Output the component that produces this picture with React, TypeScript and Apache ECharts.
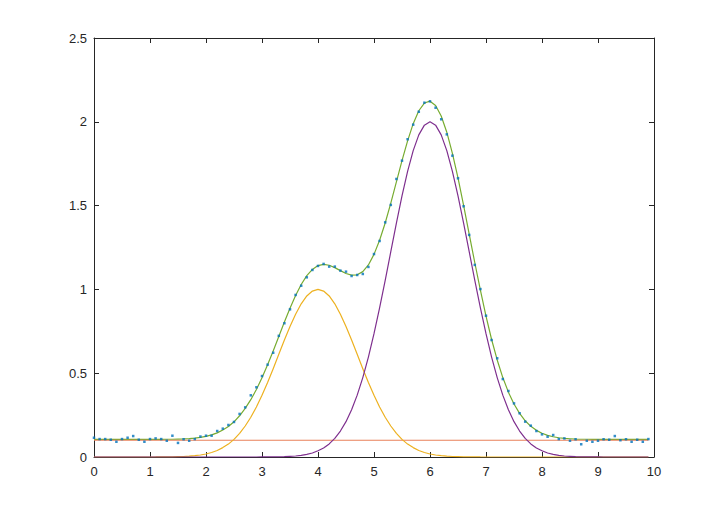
import React, { useEffect, useRef } from "react";
import * as echarts from "echarts";

const sampleX = [
  0, 0.1, 0.2, 0.3, 0.4, 0.5, 0.6, 0.7, 0.8, 0.9,
  1, 1.1, 1.2, 1.3, 1.4, 1.5, 1.6, 1.7, 1.8, 1.9,
  2, 2.1, 2.2, 2.3, 2.4, 2.5, 2.6, 2.7, 2.8, 2.9,
  3, 3.1, 3.2, 3.3, 3.4, 3.5, 3.6, 3.7, 3.8, 3.9,
  4, 4.1, 4.2, 4.3, 4.4, 4.5, 4.6, 4.7, 4.8, 4.9,
  5, 5.1, 5.2, 5.3, 5.4, 5.5, 5.6, 5.7, 5.8, 5.9,
  6, 6.1, 6.2, 6.3, 6.4, 6.5, 6.6, 6.7, 6.8, 6.9,
  7, 7.1, 7.2, 7.3, 7.4, 7.5, 7.6, 7.7, 7.8, 7.9,
  8, 8.1, 8.2, 8.3, 8.4, 8.5, 8.6, 8.7, 8.8, 8.9,
  9, 9.1, 9.2, 9.3, 9.4, 9.5, 9.6, 9.7, 9.8, 9.9,
];

const measured = [
  0.115, 0.107, 0.107, 0.103, 0.091, 0.107, 0.115, 0.125, 0.103, 0.091,
  0.107, 0.111, 0.107, 0.097, 0.127, 0.084, 0.106, 0.097, 0.107, 0.122,
  0.127, 0.127, 0.155, 0.169, 0.191, 0.209, 0.257, 0.296, 0.368, 0.416,
  0.483, 0.551, 0.622, 0.723, 0.798, 0.881, 0.967, 1.022, 1.072, 1.116,
  1.14, 1.152, 1.136, 1.136, 1.112, 1.106, 1.08, 1.086, 1.092, 1.134,
  1.211, 1.289, 1.4, 1.504, 1.659, 1.768, 1.896, 1.983, 2.06, 2.114,
  2.122, 2.084, 2.015, 1.925, 1.798, 1.663, 1.496, 1.325, 1.146, 1.002,
  0.843, 0.698, 0.589, 0.465, 0.394, 0.32, 0.261, 0.211, 0.187, 0.155,
  0.135, 0.121, 0.131, 0.107, 0.111, 0.097, 0.106, 0.076, 0.097, 0.091,
  0.097, 0.106, 0.103, 0.125, 0.1, 0.106, 0.091, 0.103, 0.091, 0.107,
];

const fitted = [
  0.105, 0.105, 0.105, 0.105, 0.105, 0.105, 0.105, 0.105, 0.105, 0.105,
  0.105, 0.105, 0.105, 0.106, 0.106, 0.107, 0.108, 0.11, 0.113, 0.117,
  0.123, 0.132, 0.144, 0.161, 0.182, 0.21, 0.246, 0.29, 0.342, 0.403,
  0.473, 0.55, 0.633, 0.719, 0.805, 0.888, 0.963, 1.029, 1.082, 1.119,
  1.142, 1.149, 1.144, 1.13, 1.112, 1.095, 1.085, 1.087, 1.106, 1.146,
  1.209, 1.293, 1.396, 1.515, 1.642, 1.768, 1.886, 1.989, 2.066, 2.112,
  2.123, 2.097, 2.035, 1.938, 1.812, 1.665, 1.501, 1.33, 1.159, 0.995,
  0.841, 0.701, 0.579, 0.474, 0.387, 0.316, 0.26, 0.216, 0.183, 0.159,
  0.142, 0.129, 0.121, 0.115, 0.111, 0.109, 0.107, 0.106, 0.106, 0.105,
  0.105, 0.105, 0.105, 0.105, 0.105, 0.105, 0.105, 0.105, 0.105, 0.105,
];

const peakOne = [
  0, 0, 0, 0, 0, 0, 0, 0, 0, 0,
  0.0001, 0.0002, 0.0004, 0.0007, 0.001, 0.002, 0.003, 0.005, 0.008, 0.012,
  0.018, 0.027, 0.039, 0.056, 0.077, 0.105, 0.141, 0.185, 0.237, 0.298,
  0.368, 0.445, 0.527, 0.613, 0.698, 0.779, 0.852, 0.914, 0.961, 0.99,
  1, 0.99, 0.961, 0.914, 0.852, 0.779, 0.698, 0.613, 0.527, 0.445,
  0.368, 0.298, 0.237, 0.185, 0.141, 0.105, 0.077, 0.056, 0.039, 0.027,
  0.018, 0.012, 0.008, 0.005, 0.003, 0.002, 0.001, 0.0007, 0.0004, 0.0002,
  0.0001, 0, 0, 0, 0, 0, 0, 0, 0, 0,
  0, 0, 0, 0, 0, 0, 0, 0, 0, 0,
  0, 0, 0, 0, 0, 0, 0, 0, 0, 0,
];

const peakTwo = [
  0, 0, 0, 0, 0, 0, 0, 0, 0, 0,
  0, 0, 0, 0, 0, 0, 0, 0, 0, 0,
  0, 0, 0, 0, 0, 0, 0, 0, 0, 0,
  0.0002, 0.0004, 0.001, 0.001, 0.002, 0.004, 0.006, 0.01, 0.016, 0.024,
  0.037, 0.054, 0.078, 0.111, 0.155, 0.211, 0.282, 0.369, 0.474, 0.596,
  0.736, 0.89, 1.054, 1.225, 1.395, 1.558, 1.704, 1.828, 1.922, 1.98,
  2, 1.98, 1.922, 1.828, 1.704, 1.558, 1.395, 1.225, 1.054, 0.89,
  0.736, 0.596, 0.474, 0.369, 0.282, 0.211, 0.155, 0.111, 0.078, 0.054,
  0.037, 0.024, 0.016, 0.01, 0.006, 0.004, 0.002, 0.001, 0.001, 0.0004,
  0.0002, 0, 0, 0, 0, 0, 0, 0, 0, 0,
];

const baselineX = [0, 9.9];
const baselineY = [0.1, 0.1];

const xTicks = [0, 1, 2, 3, 4, 5, 6, 7, 8, 9, 10];
const yTicks = [0, 0.5, 1, 1.5, 2, 2.5];

const AXIS_COLOR = "#262626";
const FONT = "'Liberation Sans', Arial, sans-serif";

function pairs(xs: number[], ys: number[]) {
  return xs.map((x, i) => [x, ys[i]]);
}

export default function App() {
  const ref = useRef<HTMLDivElement>(null);
  useEffect(() => {
    if (!ref.current) return;
    const chart = echarts.init(ref.current, null, { renderer: "svg" });
    const axisCommon = {
      type: "value" as const,
      axisLine: { show: true, onZero: false, lineStyle: { color: AXIS_COLOR, width: 1 } },
      axisTick: { show: true, inside: true, length: 5, lineStyle: { color: AXIS_COLOR, width: 1 } },
      splitLine: { show: false },
    };
    const xMin = xTicks[0];
    const xMax = xTicks[xTicks.length - 1];
    const yMin = yTicks[0];
    const yMax = yTicks[yTicks.length - 1];
    const lineBase = {
      type: "line" as const,
      showSymbol: false,
      symbol: "none",
      xAxisIndex: 0,
      yAxisIndex: 0,
      z: 3,
    };
    const labelStyle = { color: AXIS_COLOR, fontSize: 13, fontFamily: FONT };
    chart.setOption({
      animation: false,
      backgroundColor: "#ffffff",
      textStyle: { color: AXIS_COLOR, fontFamily: FONT },
      grid: { left: 94, right: 69, top: 38, bottom: 55, containLabel: false },
      xAxis: [
        {
          ...axisCommon,
          position: "bottom",
          min: xMin,
          max: xMax,
          interval: 1,
          axisLabel: { ...labelStyle, margin: 8 },
        },
        {
          ...axisCommon,
          position: "top",
          min: xMin,
          max: xMax,
          interval: 1,
          axisLabel: { show: false },
        },
      ],
      yAxis: [
        {
          ...axisCommon,
          position: "left",
          min: yMin,
          max: yMax,
          interval: 0.5,
          axisLabel: { ...labelStyle, margin: 7 },
        },
        {
          ...axisCommon,
          position: "right",
          min: yMin,
          max: yMax,
          interval: 0.5,
          axisLabel: { show: false },
        },
      ],
      series: [
        {
          ...lineBase,
          name: "fit",
          data: pairs(sampleX, fitted),
          lineStyle: { color: "#77AC30", width: 1.2 },
        },
        {
          ...lineBase,
          name: "baseline",
          data: pairs(baselineX, baselineY),
          lineStyle: { color: "#E8815A", width: 1.2 },
        },
        {
          ...lineBase,
          name: "peak 1",
          data: pairs(sampleX, peakOne),
          lineStyle: { color: "#EDB120", width: 1.2 },
        },
        {
          ...lineBase,
          name: "peak 2",
          data: pairs(sampleX, peakTwo),
          lineStyle: { color: "#7E2F8E", width: 1.2 },
        },
        {
          type: "scatter",
          name: "data",
          xAxisIndex: 0,
          yAxisIndex: 0,
          data: pairs(sampleX, measured),
          symbol: "rect",
          symbolSize: 2.5,
          itemStyle: { color: "#0072BD" },
          z: 4,
        },
      ],
    });
    return () => chart.dispose();
  }, []);
  return (
    <div
      ref={ref}
      style={{ position: "fixed", left: 0, top: 0, width: 723, height: 512, background: "#fff" }}
    />
  );
}
